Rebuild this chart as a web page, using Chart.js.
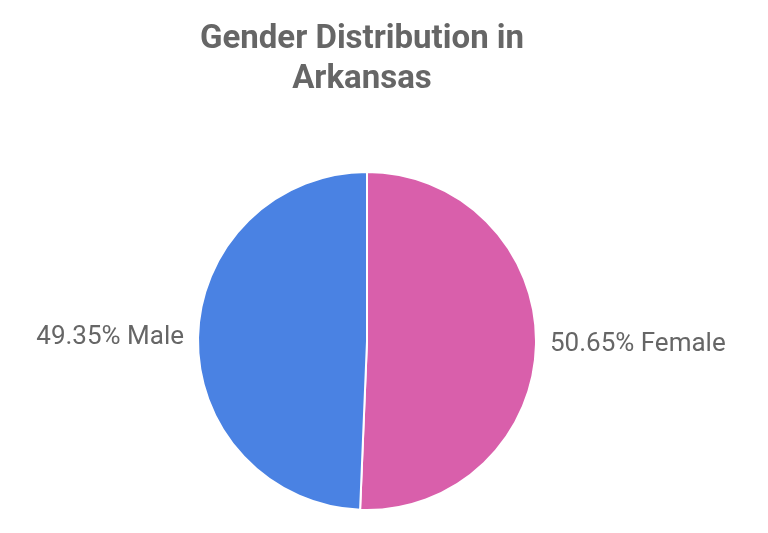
<!DOCTYPE html>
<html>
<head>
<meta charset="utf-8">
<script src="https://cdn.jsdelivr.net/npm/chart.js@4"></script>
<style>
  html, body { margin: 0; padding: 0; background: #fff; }
  #wrap { width: 768px; height: 533px; }
</style>
</head>
<body>
<div id="wrap"><canvas id="pie"></canvas></div>
<script>
const categories = ['Female', 'Male'];
const shares = [50.65, 49.35];
const colors = ['#d95fab', '#4a82e3'];
const titleLines = ['Gender Distribution in', 'Arkansas'];

// titles and outside labels drawn onto the canvas
const decorations = {
  id: 'decorations',
  afterDraw(chart) {
    const ctx = chart.ctx;
    ctx.save();
    ctx.fillStyle = '#666666';
    ctx.textAlign = 'center';
    ctx.textBaseline = 'middle';
    ctx.font = 'bold 33px Roboto';
    titleLines.forEach((t, i) => ctx.fillText(t, 362, 40 + i * 40));

    ctx.font = '26px Roboto';
    const meta = chart.getDatasetMeta(0);
    meta.data.forEach((arc, i) => {
      const mid = (arc.startAngle + arc.endAngle) / 2;
      const r = arc.outerRadius + 14;
      const x = arc.x + Math.cos(mid) * r;
      const y = arc.y + Math.sin(mid) * r;
      ctx.textAlign = Math.cos(mid) >= 0 ? 'left' : 'right';
      ctx.fillText(shares[i].toFixed(2) + '% ' + categories[i], x, y);
    });
    ctx.restore();
  }
};

new Chart(document.getElementById('pie'), {
  type: 'pie',
  data: {
    labels: categories,
    datasets: [{
      data: shares,
      backgroundColor: colors,
      borderColor: '#ffffff',
      borderWidth: 2
    }]
  },
  options: {
    responsive: true,
    maintainAspectRatio: false,
    animation: false,
    layout: { padding: { top: 171, bottom: 22, left: 197, right: 231 } },
    plugins: {
      legend: { display: false },
      tooltip: { enabled: false }
    }
  },
  plugins: [decorations]
});
</script>
</body>
</html>
